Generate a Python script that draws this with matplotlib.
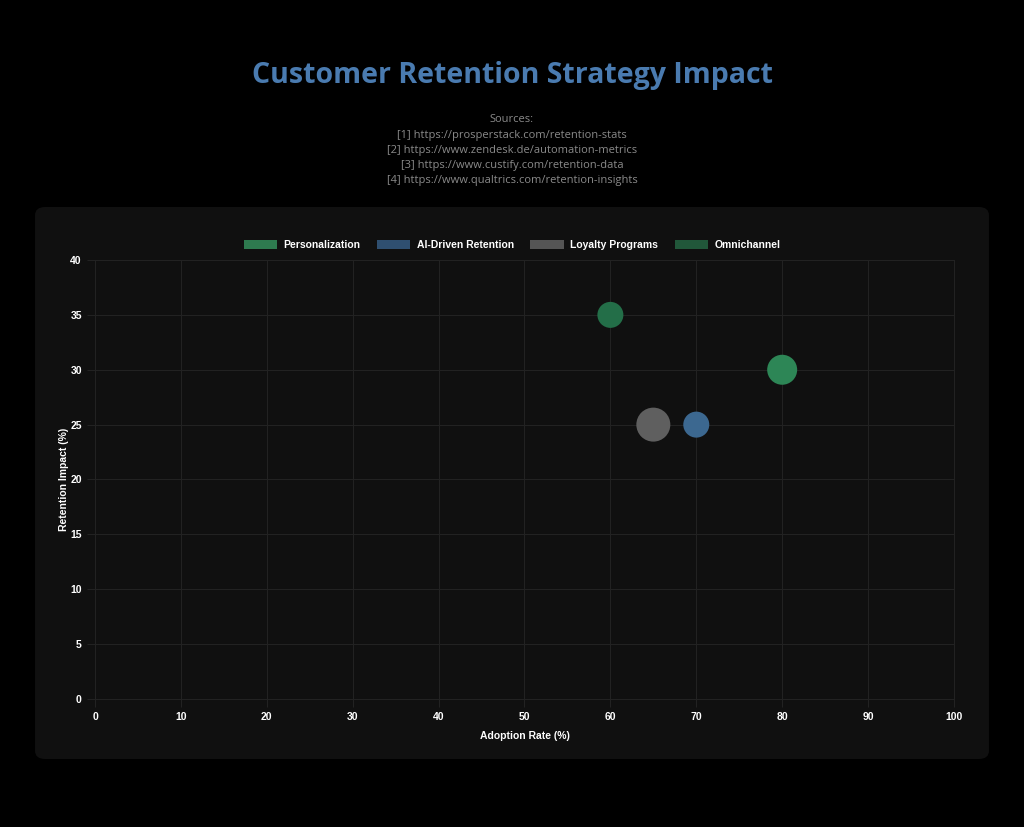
import matplotlib.pyplot as plt
from matplotlib.patches import FancyBboxPatch, Patch

# Data
strategies = ["Personalization", "AI-Driven Retention", "Loyalty Programs", "Omnichannel"]
adoption = [80, 70, 65, 60]
retention = [30, 25, 25, 35]
radius_px = [15, 13, 17, 13]
colors = ["#2d8656", "#3c6890", "#5f5f5f", "#236e48"]
legend_colors = ["#2e7a4f", "#2f4f70", "#555555", "#21573a"]

sources = [
    "Sources:",
    "[1] https://prosperstack.com/retention-stats",
    "[2] https://www.zendesk.de/automation-metrics",
    "[3] https://www.custify.com/retention-data",
    "[4] https://www.qualtrics.com/retention-insights",
]

fig = plt.figure(figsize=(10.24, 8.27), dpi=100, facecolor="black")

# Panel behind the chart
panel = FancyBboxPatch(
    (0.0342, 0.0822), 0.9316, 0.6675,
    boxstyle="round,pad=0,rounding_size=0.01",
    transform=fig.transFigure, facecolor="#101010", edgecolor="none", zorder=-1,
)
fig.patches.append(panel)

# Title and sources
fig.text(0.5, 0.909, "Customer Retention Strategy Impact", ha="center", va="center",
         fontsize=20.5, fontweight="bold", color="#4a7bb0", family="Open Sans")
for i, line in enumerate(sources):
    fig.text(0.5, 1 - (120 + i * 15.2) / 827, line, ha="center", va="center",
             fontsize=8, color="#8a8a8a", family="Open Sans")

ax = fig.add_axes([0.0928, 0.1548, 0.8388, 0.5308])
ax.set_facecolor("#101010")

# Bubble sizes: pixel radius -> points^2
sizes = [(2 * r * 72 / 100) ** 2 for r in radius_px]
ax.scatter(adoption, retention, s=sizes, c=colors, edgecolors="none", zorder=3)

ax.set_xlim(0, 100)
ax.set_ylim(0, 40)
ax.set_xticks(range(0, 101, 10))
ax.set_yticks(range(0, 41, 5))
ax.grid(True, color="#222222", linewidth=0.8)
ax.set_axisbelow(True)
for s in ax.spines.values():
    s.set_color("#222222")
ax.tick_params(colors="#222222", labelcolor="white", labelsize=7.5, length=6)
for lbl in ax.get_xticklabels() + ax.get_yticklabels():
    lbl.set_fontweight("bold")
    lbl.set_family("Liberation Sans")

ax.set_xlabel("Adoption Rate (%)", color="white", fontsize=7.5, fontweight="bold",
              family="Liberation Sans", labelpad=6)
ax.set_ylabel("Retention Impact (%)", color="white", fontsize=7.5, fontweight="bold",
              family="Liberation Sans", labelpad=1)

handles = [Patch(facecolor=c, edgecolor="none") for c in legend_colors]
leg = fig.legend(handles, strategies, loc="center", bbox_to_anchor=(0.5, 1 - 245 / 827),
                 ncol=4, frameon=False, handlelength=3.2, handleheight=1.0,
                 columnspacing=1.6, handletextpad=0.6,
                 prop={"family": "Liberation Sans", "weight": "bold", "size": 7.5})
for t in leg.get_texts():
    t.set_color("white")

fig.savefig("out.png", dpi=100, facecolor="black")
